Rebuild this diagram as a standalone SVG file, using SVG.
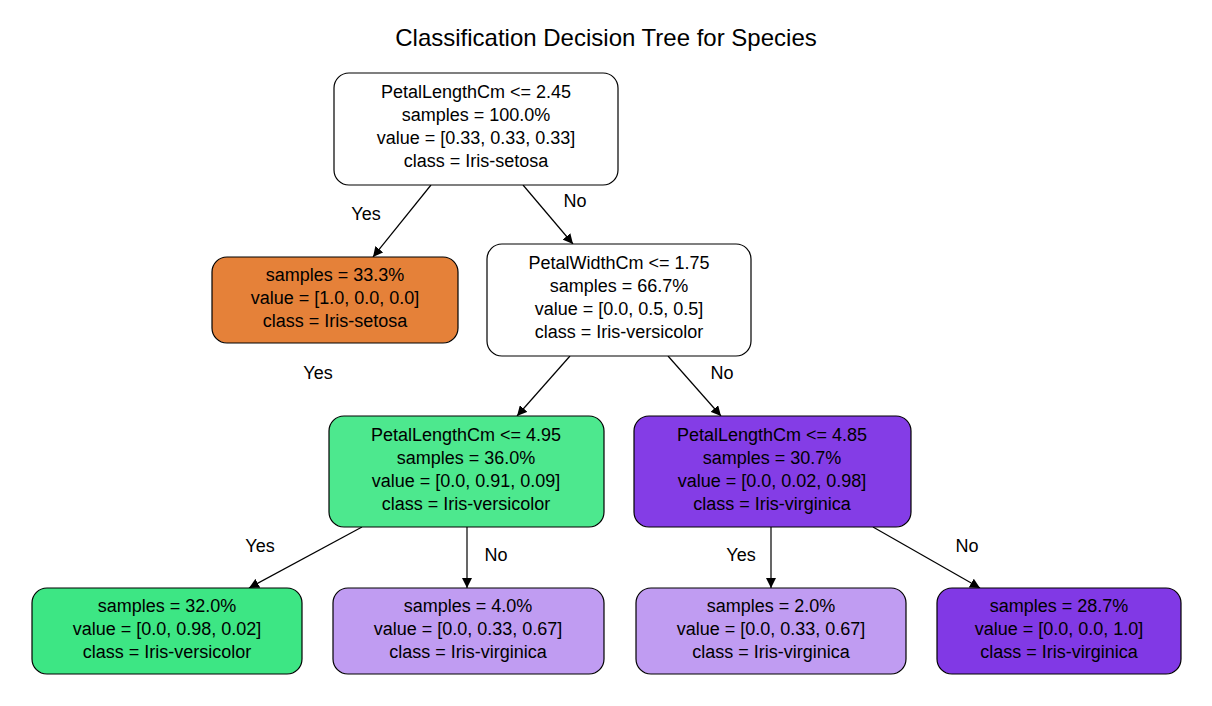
<svg xmlns="http://www.w3.org/2000/svg" width="1212" height="706" viewBox="0 0 1212 706">
<style>
text{font-family:"Liberation Sans",Arial,sans-serif;fill:#000}
.n rect{stroke:#000;stroke-width:1.2}
.n text{font-size:18px;text-anchor:middle}
.l{font-size:18px;text-anchor:middle}
.e line{stroke:#000;stroke-width:1.2}
</style>
<defs><marker id="a" viewBox="0 0 10 10" refX="10" refY="5" markerWidth="10" markerHeight="10" markerUnits="userSpaceOnUse" orient="auto"><path d="M0,0 L10,5 L0,10 z" fill="#000"/></marker></defs>
<rect width="1212" height="706" fill="#fff"/>
<text x="606" y="46" font-size="24" text-anchor="middle">Classification Decision Tree for Species</text>
<g class="e">
<line x1="431" y1="185" x2="373" y2="257" marker-end="url(#a)"/>
<line x1="523" y1="185" x2="573" y2="244" marker-end="url(#a)"/>
<line x1="570" y1="356" x2="517" y2="416" marker-end="url(#a)"/>
<line x1="668" y1="356" x2="721" y2="416" marker-end="url(#a)"/>
<line x1="362" y1="527" x2="249" y2="588" marker-end="url(#a)"/>
<line x1="467" y1="527" x2="467" y2="588" marker-end="url(#a)"/>
<line x1="771" y1="527" x2="771" y2="588" marker-end="url(#a)"/>
<line x1="873" y1="527" x2="980" y2="588" marker-end="url(#a)"/>
<text class="l" x="366" y="220">Yes</text>
<text class="l" x="575" y="207">No</text>
<text class="l" x="318" y="379">Yes</text>
<text class="l" x="722" y="379">No</text>
<text class="l" x="260" y="552">Yes</text>
<text class="l" x="496" y="561">No</text>
<text class="l" x="741" y="561">Yes</text>
<text class="l" x="967" y="552">No</text>
</g>
<g id="n0" class="n"><rect x="334" y="73" width="284" height="112" rx="15" fill="#fff"/>
<text x="476" y="98">PetalLengthCm &lt;= 2.45</text><text x="476" y="121">samples = 100.0%</text><text x="476" y="144">value = [0.33, 0.33, 0.33]</text><text x="476" y="167">class = Iris-setosa</text></g>
<g id="n1" class="n"><rect x="212" y="257" width="246" height="86" rx="15" fill="#e58139"/>
<text x="335" y="281">samples = 33.3%</text><text x="335" y="304">value = [1.0, 0.0, 0.0]</text><text x="335" y="327">class = Iris-setosa</text></g>
<g id="n2" class="n"><rect x="487" y="244" width="264" height="112" rx="15" fill="#fff"/>
<text x="619" y="269">PetalWidthCm &lt;= 1.75</text><text x="619" y="292">samples = 66.7%</text><text x="619" y="315">value = [0.0, 0.5, 0.5]</text><text x="619" y="338">class = Iris-versicolor</text></g>
<g id="n3" class="n"><rect x="329" y="416" width="275" height="111" rx="15" fill="#4de88e"/>
<text x="466" y="441">PetalLengthCm &lt;= 4.95</text><text x="466" y="464">samples = 36.0%</text><text x="466" y="487">value = [0.0, 0.91, 0.09]</text><text x="466" y="510">class = Iris-versicolor</text></g>
<g id="n4" class="n"><rect x="634" y="416" width="277" height="111" rx="15" fill="#843de6"/>
<text x="772" y="441">PetalLengthCm &lt;= 4.85</text><text x="772" y="464">samples = 30.7%</text><text x="772" y="487">value = [0.0, 0.02, 0.98]</text><text x="772" y="510">class = Iris-virginica</text></g>
<g id="n5" class="n"><rect x="32" y="588" width="270" height="86" rx="15" fill="#3de684"/>
<text x="167" y="612">samples = 32.0%</text><text x="167" y="635">value = [0.0, 0.98, 0.02]</text><text x="167" y="658">class = Iris-versicolor</text></g>
<g id="n6" class="n"><rect x="333" y="588" width="271" height="86" rx="15" fill="#c09cf2"/>
<text x="468" y="612">samples = 4.0%</text><text x="468" y="635">value = [0.0, 0.33, 0.67]</text><text x="468" y="658">class = Iris-virginica</text></g>
<g id="n7" class="n"><rect x="636" y="588" width="270" height="86" rx="15" fill="#c09cf2"/>
<text x="771" y="612">samples = 2.0%</text><text x="771" y="635">value = [0.0, 0.33, 0.67]</text><text x="771" y="658">class = Iris-virginica</text></g>
<g id="n8" class="n"><rect x="937" y="588" width="244" height="86" rx="15" fill="#8139e5"/>
<text x="1059" y="612">samples = 28.7%</text><text x="1059" y="635">value = [0.0, 0.0, 1.0]</text><text x="1059" y="658">class = Iris-virginica</text></g>
</svg>
